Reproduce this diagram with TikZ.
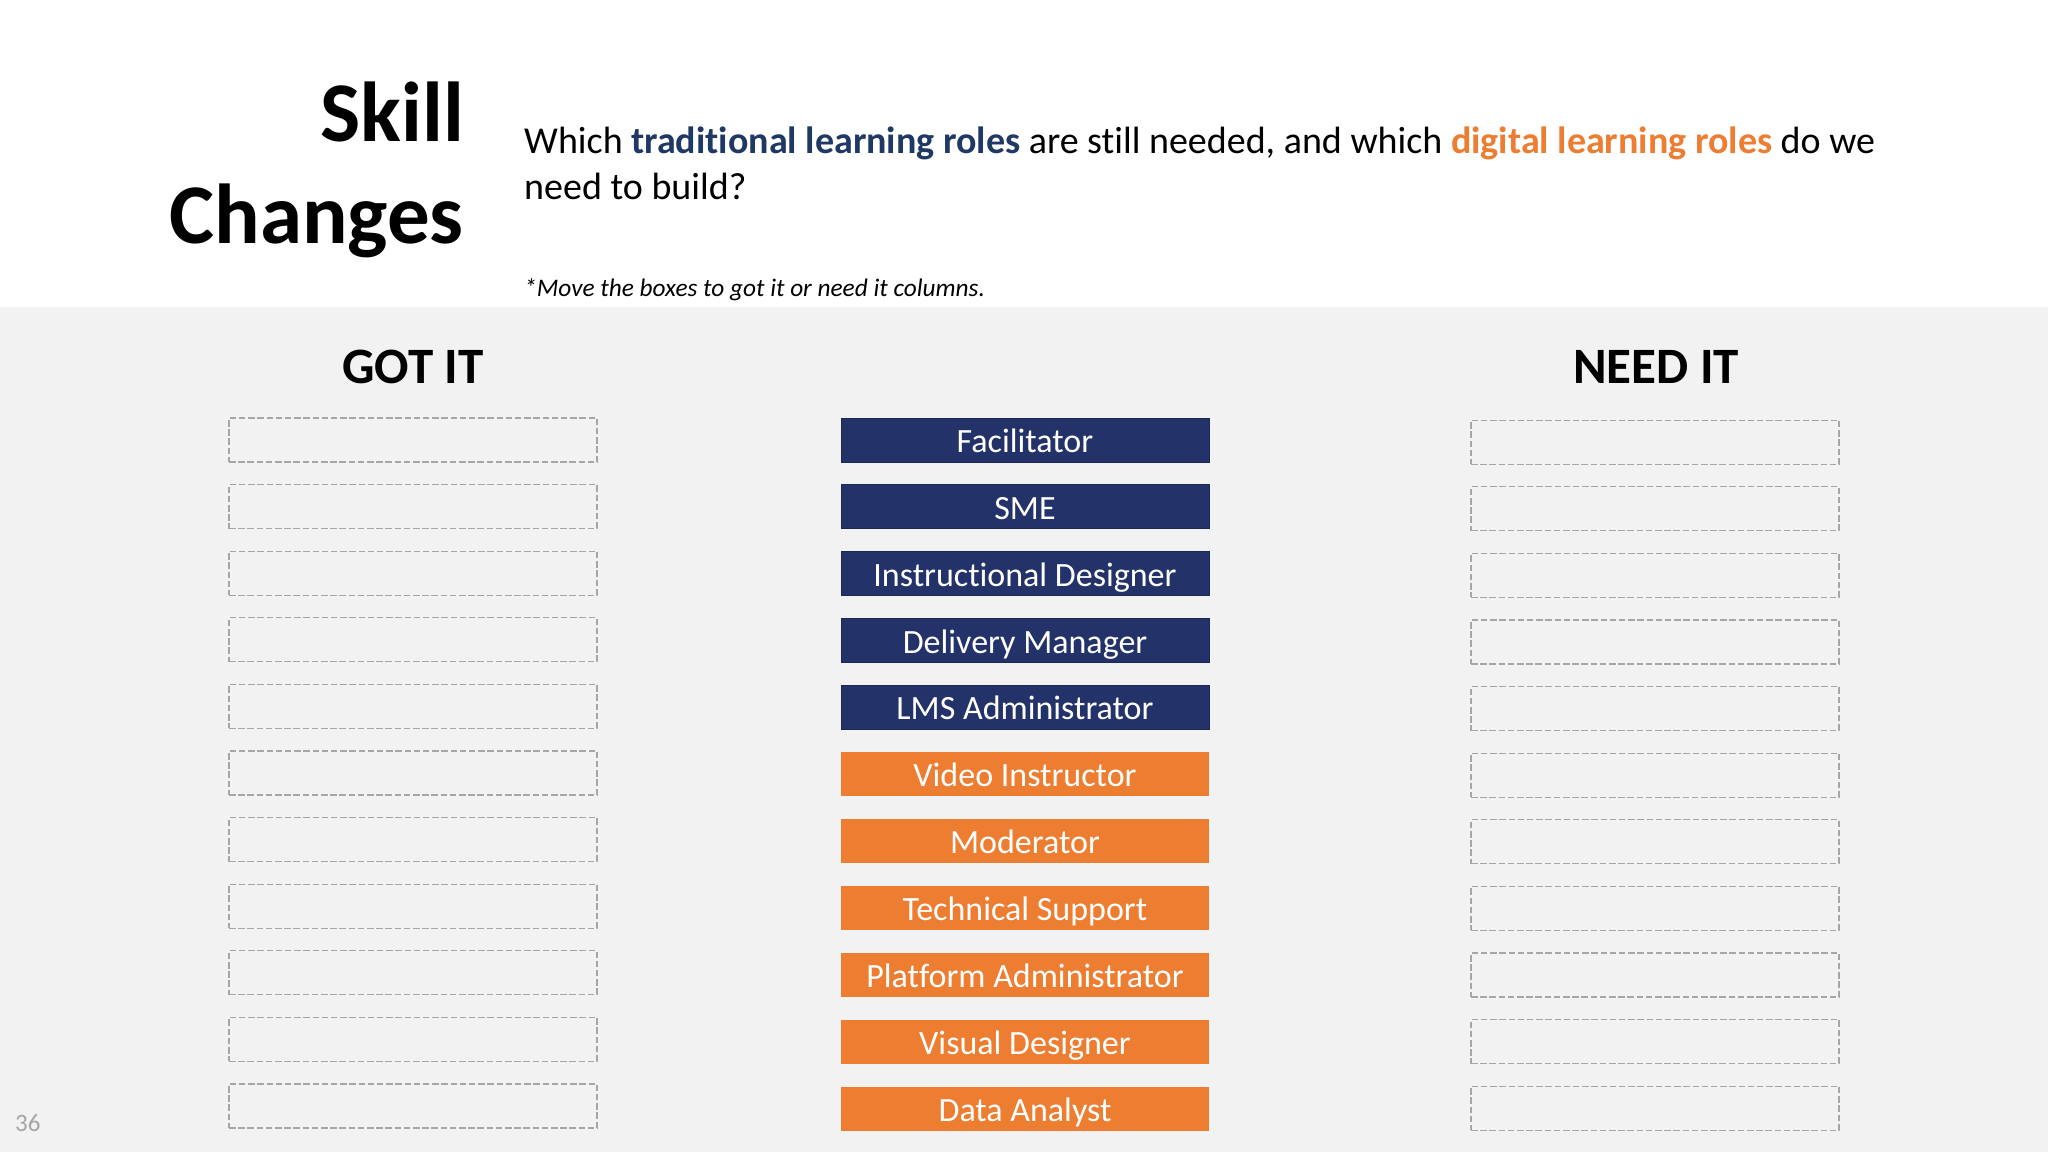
\documentclass[tikz,border=0pt]{standalone}
\usepackage{fontspec}
\setmainfont{Carlito}[Ligatures=CommonOff]
\definecolor{bgGray}{HTML}{F2F2F2}
\definecolor{navyBox}{HTML}{233369}
\definecolor{navyText}{HTML}{203864}
\definecolor{orangeBox}{HTML}{ED7D31}
\definecolor{slotGray}{HTML}{A6A6A6}
\definecolor{pgGray}{HTML}{A6A6A6}
\begin{document}
\begin{tikzpicture}[x=1pt,y=-1pt,
  slot/.style={draw=slotGray, dash pattern=on 6.5pt off 2.7pt, line width=1.3pt,
    minimum width=368pt, minimum height=44pt, inner sep=0pt},
  role/.style={minimum width=368pt, minimum height=44pt, inner sep=0pt,
    text=white, font=\fontsize{34}{36}\selectfont, text height=25pt, text depth=0pt},
  navyrole/.style={role, fill=navyBox, draw=navyBox!80!black, line width=1pt},
  orangerole/.style={role, fill=orangeBox},
  colhead/.style={anchor=base, inner sep=0pt, font=\fontsize{51}{56}\selectfont\bfseries},
  bigtitle/.style={anchor=base east, inner sep=0pt, font=\fontsize{85}{95}\selectfont\bfseries}
]
\useasboundingbox (0,0) rectangle (2048,1152);
\fill[white] (0,0) rectangle (2048,307);
\fill[bgGray] (0,307) rectangle (2048,1152);

\node[bigtitle] (t1) at (464,141) {Skill};
\node[bigtitle] (t2) at (464,243) {Changes};

\node[anchor=base west, inner sep=0pt, font=\fontsize{38}{42}\selectfont] (q1) at (524,153)
  {Which {\color{navyText}\bfseries traditional learning roles} are still needed, and which {\color{orangeBox}\bfseries digital learning roles} do we};
\node[anchor=base west, inner sep=0pt, font=\fontsize{38}{42}\selectfont] (q2) at (524,199) {need to build?};
\node[anchor=base west, inner sep=0pt, font=\fontsize{25.3}{28}\selectfont\itshape] (note) at (524,296)
  {*Move the boxes to got it or need it columns.};

\node[colhead] (got) at (413,383) {GOT IT};
\node[colhead] (need) at (1656,383) {NEED IT};

\foreach \i in {0,...,10} {
  \node[slot] (g\i) at (413,{440+\i*66.6}) {};
  \node[slot] (n\i) at (1655,{442.2+\i*66.6}) {};
}

\foreach \lbl [count=\i from 0] in {Facilitator,SME,Instructional Designer,Delivery Manager,LMS Administrator} {
  \node[navyrole] (r\i) at (1025,{440+\i*66.87}) {\lbl};
}
\foreach \lbl [count=\i from 5] in {Video Instructor,Moderator,Technical Support,Platform Administrator,Visual Designer,Data Analyst} {
  \node[orangerole] (r\i) at (1025,{440+\i*66.87}) {\lbl};
}

\node[anchor=base west, inner sep=0pt, text=pgGray, font=\fontsize{25}{27}\selectfont] (pg) at (15,1131) {36};
\end{tikzpicture}
\end{document}
